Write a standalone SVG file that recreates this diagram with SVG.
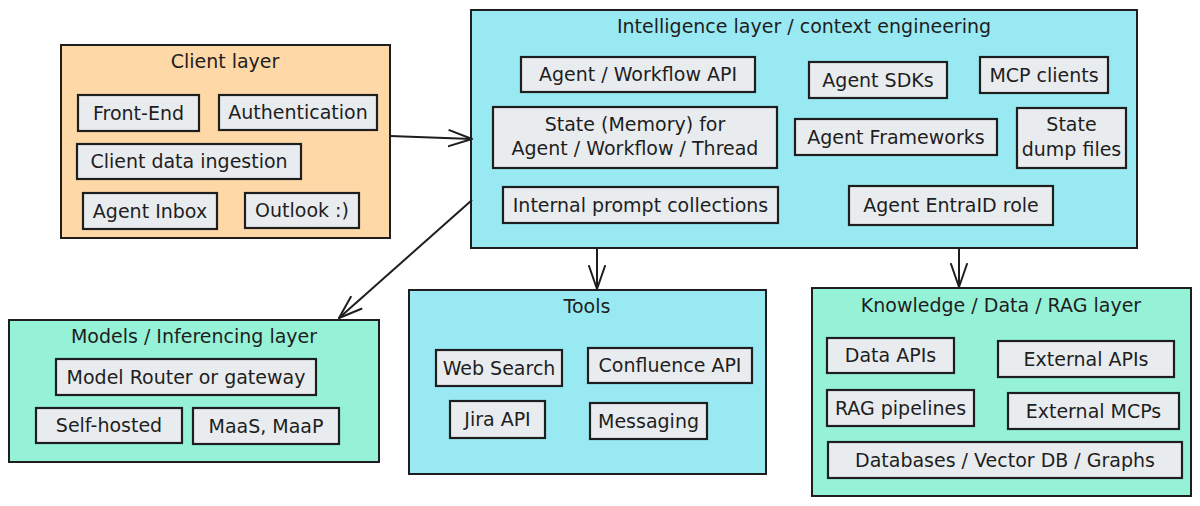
<svg xmlns="http://www.w3.org/2000/svg" width="1200" height="506" viewBox="0 0 1200 506">
<style>
.bg{fill:#ffffff}
.layer{stroke:#1e1e1e;stroke-width:2}
.client{fill:#ffd8a8}
.cyan{fill:#99e9f2}
.mint{fill:#96f2d7}
.item{fill:#e9ecef;stroke:#1e1e1e;stroke-width:2.2}
text{font-family:"DejaVu Sans","Liberation Sans",sans-serif;font-size:19px;fill:#1e1e1e;text-anchor:middle}
.conn{fill:none;stroke:#1e1e1e;stroke-width:2}
</style>
<defs>
<marker id="arrow" markerUnits="userSpaceOnUse" markerWidth="26" markerHeight="20" viewBox="0 0 26 20" refX="24" refY="10" orient="auto">
<path d="M1,2 L24,10 L1,18" fill="none" stroke="#1e1e1e" stroke-width="2" stroke-linecap="round" stroke-linejoin="round"/>
</marker>
</defs>
<rect class="bg" x="0" y="0" width="1200" height="506"/>

<g id="client-layer">
<rect class="layer client" x="61" y="45" width="329" height="193"/>
<text x="225" y="68">Client layer</text>
<rect class="item" x="78" y="95" width="121" height="36"/>
<text x="138.5" y="119.5">Front-End</text>
<rect class="item" x="219" y="95" width="158" height="35"/>
<text x="298" y="119">Authentication</text>
<rect class="item" x="77" y="144" width="224" height="35"/>
<text x="189" y="168">Client data ingestion</text>
<rect class="item" x="83" y="193" width="134" height="36"/>
<text x="150" y="217.5">Agent Inbox</text>
<rect class="item" x="245" y="193" width="114" height="35"/>
<text x="302" y="217">Outlook :)</text>
</g>

<g id="intelligence-layer">
<rect class="layer cyan" x="471" y="10" width="666" height="238"/>
<text x="804" y="33">Intelligence layer / context engineering</text>
<rect class="item" x="521" y="57" width="234" height="35"/>
<text x="638" y="81">Agent / Workflow API</text>
<rect class="item" x="493" y="107" width="284" height="61"/>
<text x="635" y="131">State (Memory) for</text>
<text x="635" y="155">Agent / Workflow / Thread</text>
<rect class="item" x="503" y="187" width="275" height="36"/>
<text x="640.5" y="211.5">Internal prompt collections</text>
<rect class="item" x="809" y="62" width="138" height="36"/>
<text x="878" y="86.5">Agent SDKs</text>
<rect class="item" x="980" y="57" width="128" height="36"/>
<text x="1044" y="81.5">MCP clients</text>
<rect class="item" x="795" y="119" width="202" height="36"/>
<text x="896" y="143.5">Agent Frameworks</text>
<rect class="item" x="1017" y="108" width="109" height="60"/>
<text x="1071.5" y="131">State</text>
<text x="1071.5" y="156">dump files</text>
<rect class="item" x="849" y="186" width="204" height="39"/>
<text x="951" y="212">Agent EntraID role</text>
</g>

<g id="models-layer">
<rect class="layer mint" x="9" y="320" width="370" height="142"/>
<text x="194" y="343">Models / Inferencing layer</text>
<rect class="item" x="56" y="359" width="260" height="36"/>
<text x="186" y="383.5">Model Router or gateway</text>
<rect class="item" x="36" y="408" width="146" height="35"/>
<text x="109" y="432">Self-hosted</text>
<rect class="item" x="193" y="408" width="146" height="36"/>
<text x="266" y="432.5">MaaS, MaaP</text>
</g>

<g id="tools-layer">
<rect class="layer cyan" x="409" y="290" width="357" height="184"/>
<text x="587" y="313">Tools</text>
<rect class="item" x="436" y="350" width="126" height="36"/>
<text x="499" y="374.5">Web Search</text>
<rect class="item" x="588" y="348" width="164" height="35"/>
<text x="670" y="372">Confluence API</text>
<rect class="item" x="450" y="401" width="95" height="37"/>
<text x="497.5" y="426">Jira API</text>
<rect class="item" x="590" y="403" width="117" height="36"/>
<text x="648.5" y="427.5">Messaging</text>
</g>

<g id="knowledge-layer">
<rect class="layer mint" x="812" y="288" width="379" height="208"/>
<text x="1001" y="312">Knowledge / Data / RAG layer</text>
<rect class="item" x="827" y="338" width="127" height="35"/>
<text x="890.5" y="362">Data APIs</text>
<rect class="item" x="998" y="341" width="176" height="36"/>
<text x="1086" y="365.5">External APIs</text>
<rect class="item" x="827" y="390" width="147" height="36"/>
<text x="900.5" y="414.5">RAG pipelines</text>
<rect class="item" x="1008" y="393" width="171" height="36"/>
<text x="1093.5" y="417.5">External MCPs</text>
<rect class="item" x="828" y="442" width="354" height="36"/>
<text x="1005" y="466.5">Databases / Vector DB / Graphs</text>
</g>

<g id="connectors">
<path class="conn" d="M390,136 L472,139" marker-end="url(#arrow)"/>
<path class="conn" d="M472,200 L339,318" marker-end="url(#arrow)"/>
<path class="conn" d="M597,248 L597,289" marker-end="url(#arrow)"/>
<path class="conn" d="M959,248 L959,287" marker-end="url(#arrow)"/>
</g>
</svg>
